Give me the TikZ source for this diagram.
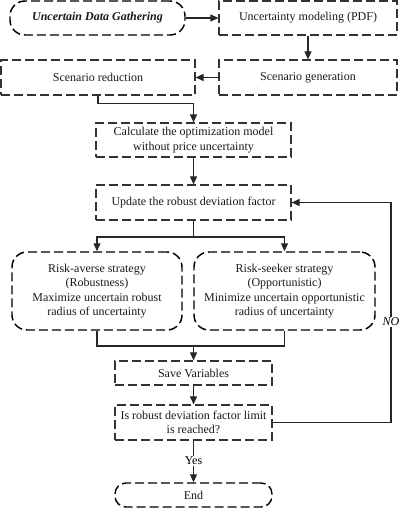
\documentclass[tikz,border=0pt]{standalone}
\usepackage{fontspec}
\setmainfont{Liberation Serif}
\usetikzlibrary{arrows.meta,calc}
\begin{document}
\begin{tikzpicture}[x=1pt,y=-1pt,
  box/.style={draw=black!80, line width=1.2pt, dash pattern=on 9pt off 4pt, align=center,
    inner sep=0pt, font=\fontsize{12}{14.5}\selectfont, text=black!90},
  rbox/.style={box, draw=black, line width=1.45pt, rounded corners=15pt},
  conn/.style={draw=black!85, line width=1.1pt},
  arr/.style={conn, -{Triangle[length=8pt,width=7pt]}},
  lbl/.style={fill=white, inner sep=1pt, font=\fontsize{12}{14}\selectfont}
]
\useasboundingbox (0,0) rectangle (400,508);
\node[rbox, minimum width=175pt, minimum height=34pt, font=\fontsize{12}{14}\selectfont\bfseries\itshape] (gather) at (97.5,18) {Uncertain Data Gathering};
\node[box, minimum width=178pt, minimum height=34pt] (model) at (308,18) {Uncertainty modeling (PDF)};
\node[box, minimum width=178pt, minimum height=35pt] (gen) at (308,77.5) {Scenario generation};
\node[box, minimum width=194pt, minimum height=35pt] (red) at (98,77.5) {Scenario reduction};
\node[box, minimum width=195pt, minimum height=34pt] (calc) at (193.5,140) {Calculate the optimization model\\without price uncertainty};
\node[box, minimum width=195pt, minimum height=35pt] (upd) at (193.5,202.5) {Update the robust deviation factor};
\node[rbox, minimum width=170pt, minimum height=78pt] (left) at (97,291) {Risk-averse strategy\\(Robustness)\\Maximize uncertain robust\\radius of uncertainty};
\node[rbox, minimum width=181pt, minimum height=78pt] (right) at (284.5,291) {Risk-seeker strategy\\(Opportunistic)\\Minimize uncertain opportunistic\\radius of uncertainty};
\node[box, minimum width=157pt, minimum height=24pt] (save) at (193.5,373) {Save Variables};
\node[box, minimum width=157pt, minimum height=35pt] (dec) at (193.5,422.5) {Is robust deviation factor limit\\is reached?};
\node[rbox, rounded corners=11pt, minimum width=157pt, minimum height=24pt] (end) at (193.5,495) {End};

\draw[arr] (gather.east) -- (model.west);
\draw[arr] (model.south) -- (gen.north);
\draw[arr] (gen.west) -- (red.east);
\draw[arr] (red.south) -- ++(0,8) -| (calc.north);
\draw[arr] (calc.south) -- (upd.north);
\coordinate (j1) at (193.5,237);
\draw[conn] (upd.south) -- (j1);
\draw[arr] (j1) -| (left.north);
\draw[arr] (j1) -| (right.north);
\coordinate (j2) at (193.5,346);
\draw[conn] (left.south) |- (j2);
\draw[conn] (right.south) |- (j2);
\draw[arr] (j2) -- (save.north);
\draw[arr] (save.south) -- (dec.north);
\coordinate (loop) at (391,202.5);
\draw[arr] (dec.east) -| (loop) -- (upd.east);
\node[lbl, font=\fontsize{12}{14}\selectfont\itshape] (no) at (391,322) {NO};
\draw[arr] (dec.south) -- (end.north);
\node[lbl] (yes) at (193.5,461) {Yes};
\end{tikzpicture}
\end{document}
